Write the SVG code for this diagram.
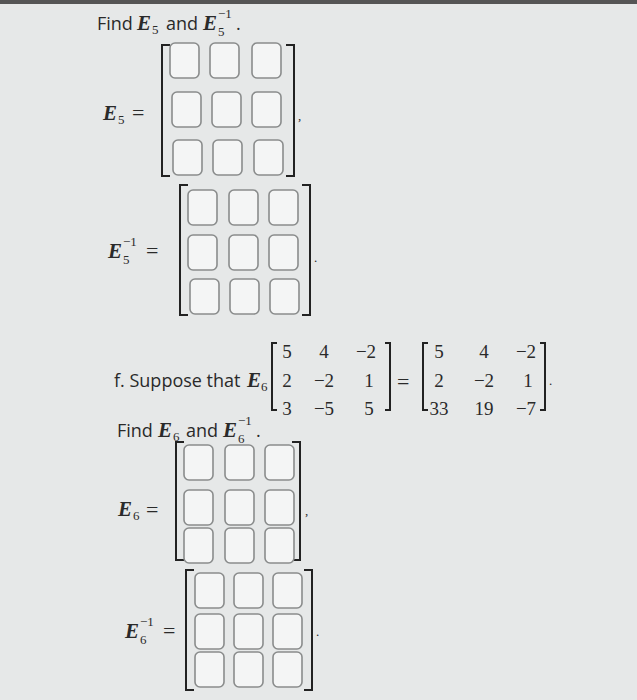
<svg xmlns="http://www.w3.org/2000/svg" width="637" height="700" viewBox="0 0 637 700">
<style>
.t{font-family:"Open Sans","Liberation Sans",sans-serif;font-size:18px;fill:#2a2a2a}
.m{font-family:"Liberation Serif",serif;font-style:italic;font-weight:bold;font-size:21px;fill:#2a2a2a}
.s{font-family:"Liberation Serif",serif;font-size:13px;fill:#2a2a2a}
.n{font-family:"Liberation Serif",serif;font-size:19px;fill:#2a2a2a;text-anchor:middle}
.e{font-family:"Liberation Serif",serif;font-size:22px;fill:#2a2a2a}
.b{fill:#f4f5f5;stroke:#8a8c8c;stroke-width:1.6}
.k{fill:none;stroke:#222;stroke-width:2}
</style>
<defs>
<rect id="bx" class="b" width="29" height="35" rx="5"/>
</defs>
<rect width="637" height="700" fill="#e6e8e8"/>
<rect width="637" height="4" fill="#555"/>
<g id="title5">
<text x="97" y="30" class="t">Find</text>
<text x="137" y="30" class="m">E</text><text x="152" y="34" class="s">5</text>
<text x="166" y="30" class="t">and</text>
<text x="203" y="30" class="m">E</text><text x="218" y="18" class="s">−1</text><text x="218" y="36" class="s">5</text>
<text x="236" y="30" class="t">.</text>
</g>
<g id="E5">
<text x="103" y="120" class="m">E</text><text x="118" y="124" class="s">5</text><text x="132" y="120" class="e">=</text>
<path class="k" d="M170 45H162V176H170M286 45H294V176H286"/>
<use href="#bx" x="170" y="43"/><use href="#bx" x="210" y="43"/><use href="#bx" x="252" y="43"/>
<use href="#bx" x="172" y="92"/><use href="#bx" x="212" y="92"/><use href="#bx" x="252" y="92"/>
<use href="#bx" x="173" y="140"/><use href="#bx" x="213" y="140"/><use href="#bx" x="254" y="140"/>
<text x="298" y="120" class="s">,</text>
</g>
<g id="E5inv">
<text x="108" y="258" class="m">E</text><text x="123" y="246" class="s">−1</text><text x="123" y="264" class="s">5</text><text x="146" y="258" class="e">=</text>
<path class="k" d="M188 185H180V315H188M302 185H310V315H302"/>
<use href="#bx" x="188" y="190"/><use href="#bx" x="229" y="190"/><use href="#bx" x="269" y="190"/>
<use href="#bx" x="188" y="235"/><use href="#bx" x="229" y="235"/><use href="#bx" x="269" y="235"/>
<use href="#bx" x="190" y="279"/><use href="#bx" x="230" y="279"/><use href="#bx" x="270" y="279"/>
<text x="314" y="262" class="s">.</text>
</g>
<g id="suppose">
<text x="114" y="387" class="t">f. Suppose that</text>
<text x="247" y="387" class="m">E</text><text x="261" y="391" class="s">6</text>
<path class="k" d="M277 343H272V410H277M385 343H390V410H385"/>
<text x="287" y="358" class="n">5</text><text x="324" y="358" class="n">4</text><text x="366" y="358" class="n">−2</text>
<text x="287" y="387" class="n">2</text><text x="324" y="387" class="n">−2</text><text x="369" y="387" class="n">1</text>
<text x="287" y="415" class="n">3</text><text x="324" y="415" class="n">−5</text><text x="369" y="415" class="n">5</text>
<text x="397" y="389" class="e">=</text>
<path class="k" d="M428 343H423V410H428M540 343H545V410H540"/>
<text x="439" y="358" class="n">5</text><text x="484" y="358" class="n">4</text><text x="526" y="358" class="n">−2</text>
<text x="439" y="387" class="n">2</text><text x="484" y="387" class="n">−2</text><text x="528" y="387" class="n">1</text>
<text x="439" y="415" class="n">33</text><text x="484" y="415" class="n">19</text><text x="526" y="415" class="n">−7</text>
<text x="549" y="385" class="s">.</text>
</g>
<g id="title6">
<text x="117" y="437" class="t">Find</text>
<text x="158" y="437" class="m">E</text><text x="173" y="441" class="s">6</text>
<text x="186" y="437" class="t">and</text>
<text x="223" y="437" class="m">E</text><text x="238" y="425" class="s">−1</text><text x="238" y="443" class="s">6</text>
<text x="256" y="437" class="t">.</text>
</g>
<g id="E6">
<text x="118" y="516" class="m">E</text><text x="133" y="520" class="s">6</text><text x="146" y="517" class="e">=</text>
<path class="k" d="M184 442H176V560H184M292 442H300V560H292"/>
<use href="#bx" x="184" y="445"/><use href="#bx" x="225" y="445"/><use href="#bx" x="265" y="445"/>
<use href="#bx" x="184" y="490"/><use href="#bx" x="225" y="490"/><use href="#bx" x="265" y="490"/>
<use href="#bx" x="184" y="528"/><use href="#bx" x="225" y="528"/><use href="#bx" x="265" y="528"/>
<text x="305" y="515" class="s">,</text>
</g>
<g id="E6inv">
<text x="125" y="638" class="m">E</text><text x="140" y="626" class="s">−1</text><text x="140" y="644" class="s">6</text><text x="163" y="638" class="e">=</text>
<path class="k" d="M194 570H186V690H194M304 570H312V690H304"/>
<use href="#bx" x="195" y="573"/><use href="#bx" x="234" y="573"/><use href="#bx" x="273" y="573"/>
<use href="#bx" x="195" y="614"/><use href="#bx" x="234" y="614"/><use href="#bx" x="273" y="614"/>
<use href="#bx" x="195" y="652"/><use href="#bx" x="234" y="652"/><use href="#bx" x="273" y="652"/>
<text x="316" y="636" class="s">.</text>
</g>
</svg>
